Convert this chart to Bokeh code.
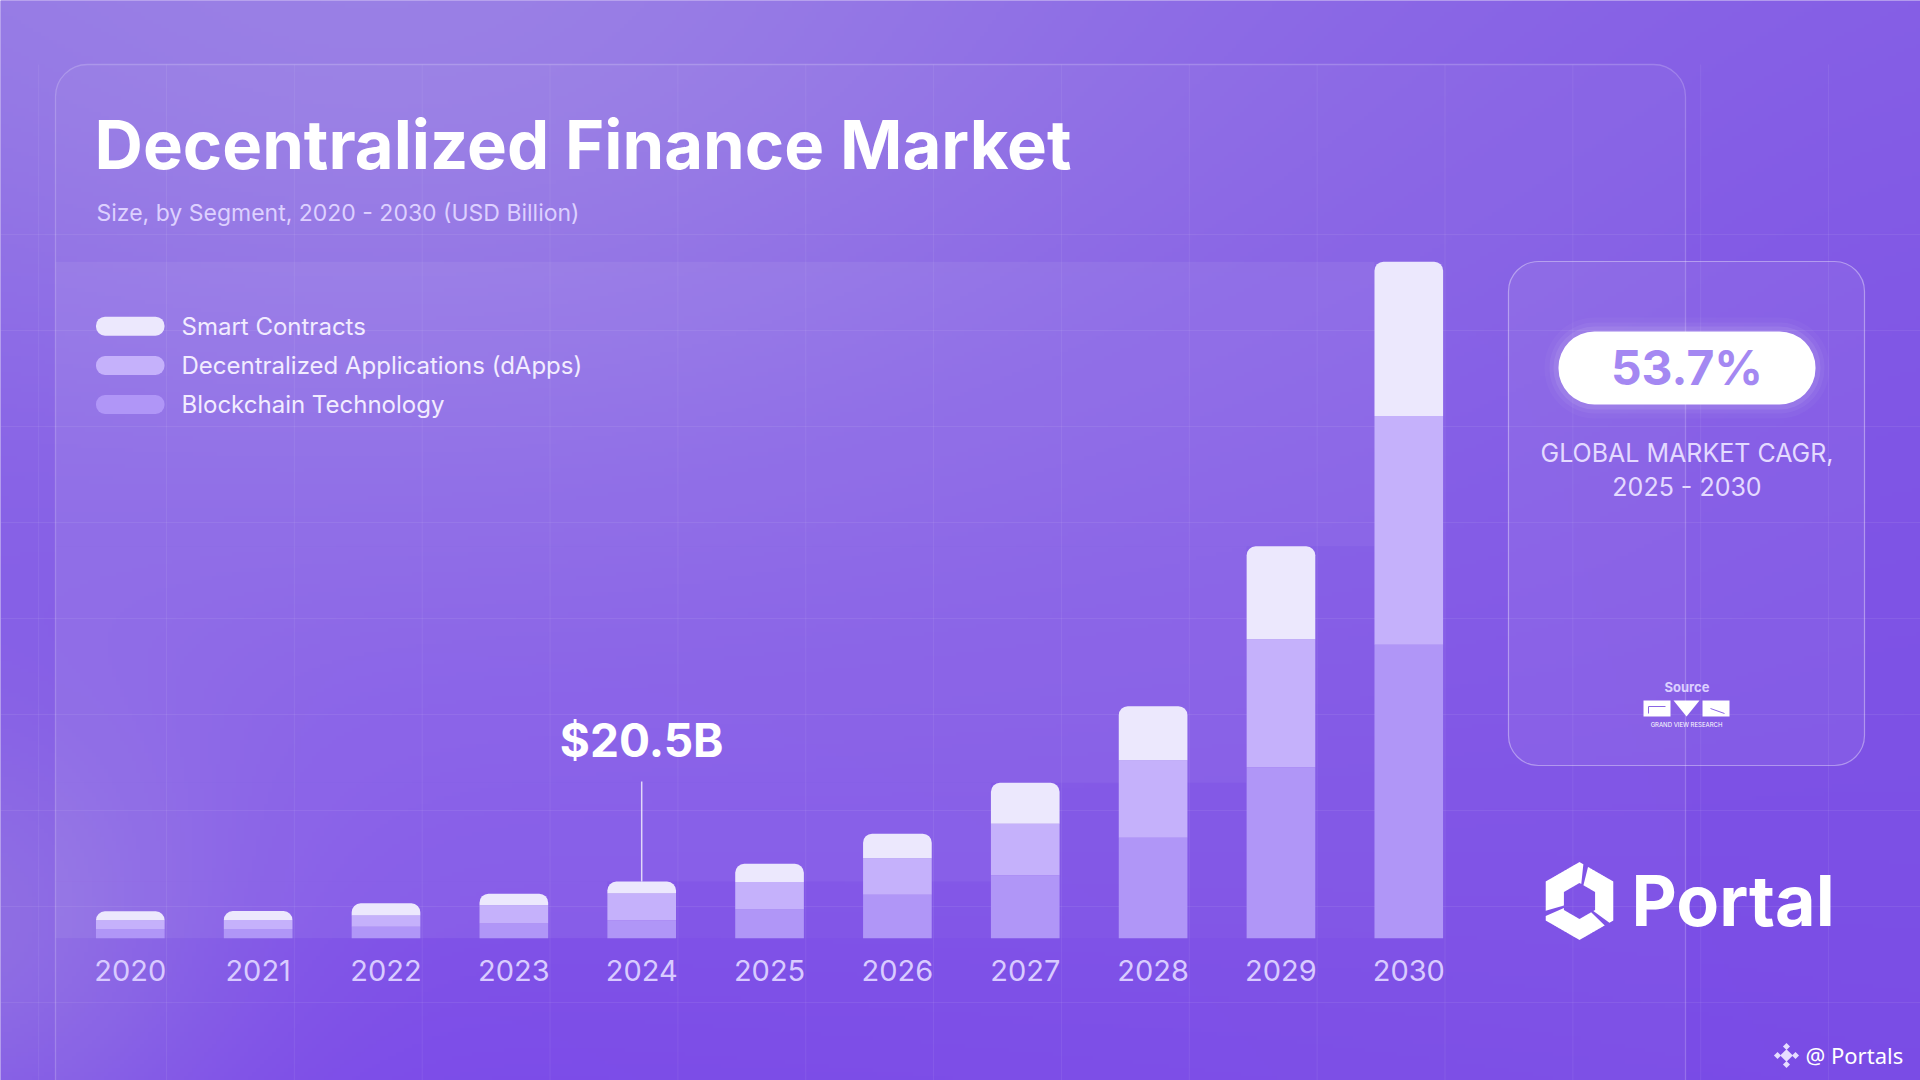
import numpy as np
from bokeh.plotting import figure
from bokeh.models import Range1d, ColumnDataSource
from bokeh.core.properties import value
from bokeh.embed import file_html
from bokeh.resources import INLINE

# ---------------- data ----------------
years = [2020, 2021, 2022, 2023, 2024, 2025, 2026, 2027, 2028, 2029, 2030]
year_labels = [str(y) for y in years]
blockchain = [3.3, 3.3, 4.1, 5.3, 6.5, 10.4, 15.7, 22.8, 36.3, 61.8, 106.1]
dapps = [3.2, 3.3, 4.1, 6.6, 9.7, 9.9, 13.2, 18.6, 28.0, 46.3, 82.7]
smart = [3.2, 3.2, 4.4, 4.2, 4.3, 6.6, 8.9, 14.8, 19.6, 33.6, 55.8]
segments = ["Smart Contracts", "Decentralized Applications (dApps)", "Blockchain Technology"]
highlight_year = 2024
step_years = [2024, 2027, 2029, 2030]
cagr_text = "53.7%"
cagr_lines = ["GLOBAL MARKET CAGR,", "2025 - 2030"]
title_text = "Decentralized Finance Market"
subtitle_text = "Size, by Segment, 2020 - 2030 (USD Billion)"

# ---------------- style ----------------
C_SMART = "#ece8fd"
C_DAPPS = "#c5b1fb"
C_BLOCK = "#b096f7"
FONT = "Inter"

W, H = 1920, 1080
def Y(v):  # screenshot y (top-down) -> plot y (bottom-up)
    return 1080 - v

PX_YEAR = 127.85
X2020 = 129.8
yr_start = 2020 - X2020 / PX_YEAR
yr_end = yr_start + W / PX_YEAR
PX_VAL = 2.766
BASE = 937.7
val_start = -(H - BASE) / PX_VAL
val_end = val_start + H / PX_VAL
BAR_W = 0.537

def px_to_year(px):
    return yr_start + px / PX_YEAR

p = figure(width=W, height=H, x_range=Range1d(0, W), y_range=Range1d(0, H),
           output_backend="svg", toolbar_location=None, min_border=0,
           x_axis_location=None, y_axis_location=None, title=None)
p.grid.visible = False
p.outline_line_color = None
p.background_fill_color = "#8560e4"
p.border_fill_color = "#8560e4"
p.extra_x_ranges = {"yr": Range1d(yr_start, yr_end)}
p.extra_y_ranges = {"val": Range1d(val_start, val_end)}

# ---------------- background gradient ----------------
gh, gw = 270, 480
xs = np.linspace(0, W, gw)
ys = np.linspace(H, 0, gh)  # row 0 = bottom of screen
GX, GY = np.meshgrid(xs, ys)
t = np.clip(GY / 1080.0, 0, 1)[..., None]
u = np.clip(GX / 1920.0, 0, 1)[..., None]
top = np.array([144, 114, 229]) * (1 - u) + np.array([134, 96, 230]) * u
bot = np.array([120, 70, 233]) * (1 - u) + np.array([122, 76, 230]) * u
col = top * (1 - t) + bot * t
def glow(cx, cy, sx, sy, c, s):
    global col
    w = s * np.exp(-(((GX - cx) / sx) ** 2 + ((GY - cy) / sy) ** 2))[..., None]
    col = col * (1 - w) + np.array(c) * w
glow(430, 0, 650, 420, [166, 146, 230], 0.5)
glow(-40, 930, 260, 260, [150, 122, 226], 0.75)
glow(1920, 600, 300, 500, [124, 80, 228], 0.3)
img = np.empty((gh, gw), dtype=np.uint32)
view = img.view(dtype=np.uint8).reshape((gh, gw, 4))
for k in range(3):
    view[..., k] = np.clip(col[..., k], 0, 255).astype(np.uint8)
view[..., 3] = 255
p.image_rgba(image=[img], x=0, y=0, dw=W, dh=H)

# ---------------- outer card ----------------
p.quad(left=55, right=1685, top=Y(64), bottom=Y(1240), border_radius=32,
       fill_color="white", fill_alpha=0.03, line_color="white", line_alpha=0.2, line_width=1.3)

# ---------------- stacked values ----------------
b = np.array(blockchain, dtype=float)
d = np.array(dapps, dtype=float)
s = np.array(smart, dtype=float)
tot = b + d + s
src = ColumnDataSource(dict(x=years, z=np.zeros(len(years)), b1=b, d1=b + d, s1=tot))

# chart area overlay + stepped highlight bands
left_yr = px_to_year(55)
p.quad(left=[left_yr], right=[years[-1] + BAR_W / 2], bottom=[0], top=[tot.max()],
       x_range_name="yr", y_range_name="val", fill_color="white", fill_alpha=0.025, line_color=None)
st_tops = [tot[years.index(yv)] for yv in step_years]
st_bots = [0] + st_tops[:-1]
st_right = [yv - BAR_W / 2 for yv in step_years]
p.quad(left=[left_yr] * len(step_years), right=st_right, bottom=st_bots, top=st_tops,
       x_range_name="yr", y_range_name="val", fill_color="white", fill_alpha=0.045, line_color=None)

# ---------------- faint grid ----------------
vx = 166 + PX_YEAR * np.arange(-1, 14)
p.segment(x0=vx, x1=vx, y0=Y(64), y1=Y(1080), line_color="white", line_alpha=0.07, line_width=1)
hy = 906 - 96 * np.arange(-1, 8)
p.segment(x0=0, x1=W, y0=Y(hy), y1=Y(hy), line_color="white", line_alpha=0.07, line_width=1)

# ---------------- bars ----------------
common = dict(x="x", width=BAR_W, source=src, x_range_name="yr", y_range_name="val", line_color=None)
p.vbar(bottom="z", top="b1", fill_color=C_BLOCK, **common)
p.vbar(bottom="b1", top="d1", fill_color=C_DAPPS, **common)
p.vbar(bottom="d1", top="s1", fill_color=C_SMART, border_radius=(9, 9, 0, 0), **common)

# year tick labels
p.text(x=years, y=[0] * len(years), text=year_labels, x_range_name="yr", y_range_name="val",
       y_offset=32, text_align="center", text_baseline="middle", text_font=value(FONT),
       text_font_size="29px", text_color="#d9cbff")

# callout for highlighted year
hi = years.index(highlight_year)
line_len = 100 / PX_VAL
p.segment(x0=[highlight_year], x1=[highlight_year], y0=[tot[hi]], y1=[tot[hi] + line_len],
          x_range_name="yr", y_range_name="val", line_color="white", line_alpha=0.75, line_width=1.5)
p.text(x=[highlight_year], y=[tot[hi]], text=[f"${tot[hi]:.1f}B"], x_range_name="yr", y_range_name="val",
       y_offset=-141, text_align="center", text_baseline="middle", text_font=value(FONT),
       text_font_size="46px", text_font_style="bold", text_color="white")

# ---------------- legend ----------------
leg_y = [325.7, 365, 404]
leg_cols = [C_SMART, C_DAPPS, C_BLOCK]
p.quad(left=95.5, right=164, top=[Y(v) + 9.5 for v in leg_y], bottom=[Y(v) - 9.5 for v in leg_y],
       border_radius=9, fill_color=leg_cols, line_color=None)
p.text(x=181, y=[Y(v) for v in leg_y], text=segments, text_baseline="middle", text_align="left",
       text_font=value(FONT), text_font_size="24px", text_color="#f2ecff")

# ---------------- titles ----------------
def txt(x, y, t, size, color, bold=False, align="left", font=FONT):
    p.text(x=[x], y=[y], text=[t], text_font=value(font), text_font_size=f"{size}px",
           text_font_style="bold" if bold else "normal", text_color=color,
           text_align=align, text_baseline="middle")

txt(94, Y(144), title_text, 67, "white", bold=True)
txt(96, Y(212), subtitle_text, 23, "#ddd0ff")

# ---------------- right card ----------------
p.quad(left=1508, right=1864, top=Y(261), bottom=Y(765), border_radius=30,
       fill_color="white", fill_alpha=0.06, line_color="white", line_alpha=0.38, line_width=1.2)
for g, a in [(14, 0.03), (9, 0.05), (5, 0.08)]:
    p.quad(left=1558 - g, right=1815 + g, top=Y(331) + g, bottom=Y(404) - g, border_radius=36 + g,
           fill_color="white", fill_alpha=a, line_color=None)
p.quad(left=1558, right=1815, top=Y(331), bottom=Y(404), border_radius=36,
       fill_color="white", line_color=None)
txt(1686.5, Y(367), cagr_text, 48, "#a488f2", bold=True, align="center")
for i, ln in enumerate(cagr_lines):
    txt(1686.5, Y(452 + 34 * i), ln, 25, "#e4daff", align="center")
txt(1686.5, Y(686), "Source", 13, "#dcd0ff", bold=True, align="center")
# GVR logo
p.quad(left=[1643, 1702], right=[1670, 1729], top=Y(700), bottom=Y(716), fill_color="white", line_color=None)
p.patch(x=[1673, 1699, 1686], y=[Y(700), Y(700), Y(716)], fill_color="white", line_color=None)
p.segment(x0=[1648, 1648, 1710], x1=[1665, 1648, 1724], y0=[Y(706), Y(706), Y(708)],
          y1=[Y(706), Y(713), Y(713)], line_color="#8a66e4", line_width=1)
txt(1686, Y(724), "GRAND VIEW RESEARCH", 6, "white", align="center")

# ---------------- Portal logo ----------------
cx, cy, R, RI = 1579, Y(900.5), 39, 18
def hexr(theta, rad):
    m = np.round(theta / 60.0) * 60.0
    return rad * np.cos(np.radians(30)) / np.cos(np.radians(theta - m))
pxs, pys = [], []
for a0 in [80, 200, 320]:
    th = np.linspace(a0 + 4, a0 + 116, 113)
    ro = hexr(th, R)
    ri = hexr(th[::-1], RI)
    xx = np.concatenate([cx + ro * np.cos(np.radians(th)), cx + ri * np.cos(np.radians(th[::-1]))])
    yy = np.concatenate([cy + ro * np.sin(np.radians(th)), cy + ri * np.sin(np.radians(th[::-1]))])
    pxs.append(list(xx)); pys.append(list(yy))
p.patches(xs=pxs, ys=pys, fill_color="white", line_color=None)
txt(1631, Y(900), "Portal", 70, "white", bold=True)

# ---------------- watermark ----------------
p.scatter(x=[1786, 1777, 1795, 1786, 1786], y=[Y(1055), Y(1055), Y(1055), Y(1046), Y(1064)],
          size=[9, 5, 5, 5, 5], marker="square", angle=np.pi / 4, fill_color="#e6ddff", line_color=None)
txt(1805, Y(1054), "@ Portals", 22, "white", font="Noto Sans")

open("out.html", "w").write(file_html(p, INLINE))
